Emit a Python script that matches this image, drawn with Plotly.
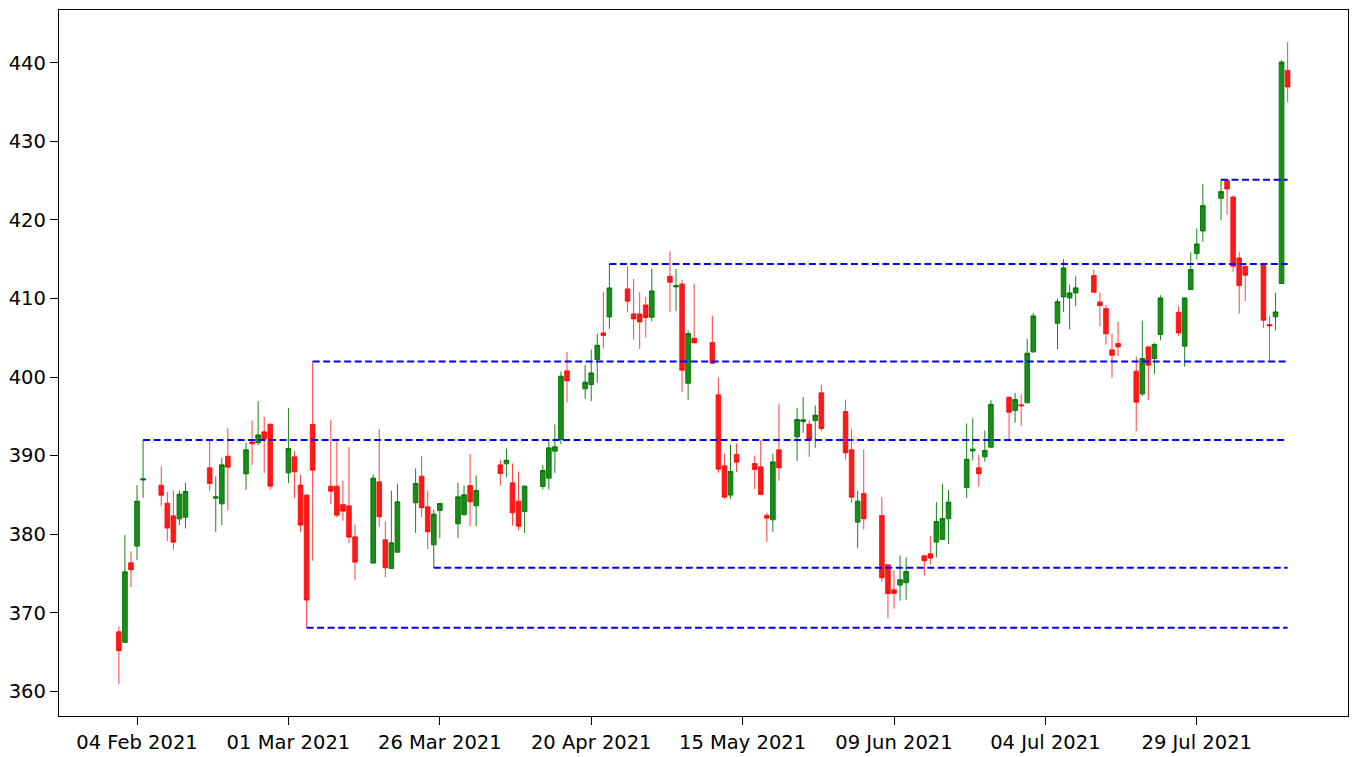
import plotly.graph_objects as go

dates = [
    "2021-02-01", "2021-02-02", "2021-02-03", "2021-02-04", "2021-02-05",
    "2021-02-08", "2021-02-09", "2021-02-10", "2021-02-11", "2021-02-12",
    "2021-02-16", "2021-02-17", "2021-02-18", "2021-02-19",
    "2021-02-22", "2021-02-23", "2021-02-24", "2021-02-25", "2021-02-26",
    "2021-03-01", "2021-03-02", "2021-03-03", "2021-03-04", "2021-03-05",
    "2021-03-08", "2021-03-09", "2021-03-10", "2021-03-11", "2021-03-12",
    "2021-03-15", "2021-03-16", "2021-03-17", "2021-03-18", "2021-03-19",
    "2021-03-22", "2021-03-23", "2021-03-24", "2021-03-25", "2021-03-26",
    "2021-03-29", "2021-03-30", "2021-03-31", "2021-04-01",
    "2021-04-05", "2021-04-06", "2021-04-07", "2021-04-08", "2021-04-09",
    "2021-04-12", "2021-04-13", "2021-04-14", "2021-04-15", "2021-04-16",
    "2021-04-19", "2021-04-20", "2021-04-21", "2021-04-22", "2021-04-23",
    "2021-04-26", "2021-04-27", "2021-04-28", "2021-04-29", "2021-04-30",
    "2021-05-03", "2021-05-04", "2021-05-05", "2021-05-06", "2021-05-07",
    "2021-05-10", "2021-05-11", "2021-05-12", "2021-05-13", "2021-05-14",
    "2021-05-17", "2021-05-18", "2021-05-19", "2021-05-20", "2021-05-21",
    "2021-05-24", "2021-05-25", "2021-05-26", "2021-05-27", "2021-05-28",
    "2021-06-01", "2021-06-02", "2021-06-03", "2021-06-04",
    "2021-06-07", "2021-06-08", "2021-06-09", "2021-06-10", "2021-06-11",
    "2021-06-14", "2021-06-15", "2021-06-16", "2021-06-17", "2021-06-18",
    "2021-06-21", "2021-06-22", "2021-06-23", "2021-06-24", "2021-06-25",
    "2021-06-28", "2021-06-29", "2021-06-30", "2021-07-01", "2021-07-02",
    "2021-07-06", "2021-07-07", "2021-07-08", "2021-07-09",
    "2021-07-12", "2021-07-13", "2021-07-14", "2021-07-15", "2021-07-16",
    "2021-07-19", "2021-07-20", "2021-07-21", "2021-07-22", "2021-07-23",
    "2021-07-26", "2021-07-27", "2021-07-28", "2021-07-29", "2021-07-30",
    "2021-08-02", "2021-08-03", "2021-08-04", "2021-08-05", "2021-08-06",
    "2021-08-09", "2021-08-10", "2021-08-11", "2021-08-12", "2021-08-13",
]

opens = [
    367.59, 366.24, 376.37, 378.49, 386.90,
    386.24, 383.95, 382.34, 381.96, 382.17,
    388.45, 384.59, 383.87, 389.93,
    387.68, 391.75, 391.63, 393.03, 394.00,
    387.81, 389.85, 386.25, 384.97, 393.96,
    386.12, 386.12, 383.79, 383.62, 379.67,
    376.33, 386.67, 379.29, 375.65, 377.72,
    384.00, 387.39, 383.49, 378.66, 383.02,
    381.33, 382.52, 386.20, 383.62,
    388.83, 388.96, 386.54, 384.21, 382.90,
    386.08, 387.14, 390.57, 392.05, 400.79,
    398.50, 399.05, 402.23, 405.62, 407.65,
    411.22, 408.04, 408.04, 409.18, 407.61,
    412.83, 411.47, 411.85, 399.22, 404.94,
    404.39, 397.74, 388.71, 384.98, 390.15,
    389.00, 388.58, 382.39, 381.84, 390.74,
    392.39, 394.34, 394.00, 394.47, 397.99,
    395.61, 390.74, 381.54, 385.19,
    382.39, 376.12, 372.94, 373.53, 373.83,
    377.26, 377.52, 379.00, 379.34, 381.97,
    385.95, 390.61, 388.45, 389.85, 391.08,
    397.44, 395.74, 396.47, 396.72, 403.21,
    406.85, 410.20, 410.07, 410.71,
    412.91, 409.56, 408.72, 403.46, 404.27,
    400.75, 397.86, 403.84, 402.36, 405.41,
    408.25, 403.93, 411.13, 415.71, 418.59,
    422.75, 425.04, 422.92, 415.16, 414.10,
    414.31, 406.68, 407.66, 411.90, 439.03,
]

highs = [
    368.23, 379.89, 377.81, 386.24, 392.00,
    388.62, 385.40, 385.57, 385.57, 386.54,
    391.92, 387.35, 389.72, 393.49,
    391.67, 394.47, 396.93, 394.93, 394.10,
    396.08, 390.57, 387.56, 385.10, 401.97,
    394.56, 391.80, 386.84, 391.08, 381.24,
    387.60, 393.41, 381.62, 385.53, 386.42,
    388.37, 389.93, 385.53, 383.15, 383.95,
    386.54, 386.20, 390.23, 387.48,
    389.43, 390.91, 389.00, 387.98, 386.20,
    388.83, 391.93, 393.96, 400.70, 403.20,
    401.55, 403.50, 405.49, 410.83, 414.40,
    414.10, 412.49, 410.79, 410.20, 413.80,
    416.01, 413.76, 412.36, 405.96, 411.85,
    407.82, 399.94, 390.23, 391.42, 391.55,
    390.02, 391.97, 382.73, 390.23, 396.63,
    396.08, 397.48, 394.56, 396.38, 399.01,
    397.14, 393.33, 385.48, 390.78,
    384.72, 376.20, 375.40, 377.30, 377.05,
    377.30, 379.76, 384.09, 386.42, 385.61,
    394.09, 394.77, 390.11, 393.20, 397.06,
    397.50, 397.99, 397.78, 404.86, 408.17,
    410.00, 415.03, 411.77, 412.83,
    413.68, 410.79, 409.18, 405.54, 407.02,
    402.57, 407.19, 403.90, 404.35, 410.41,
    409.01, 410.10, 415.88, 418.89, 424.57,
    425.10, 425.10, 423.13, 415.88, 414.15,
    414.40, 407.83, 410.71, 440.30, 442.63,
]

lows = [
    360.94, 366.20, 373.27, 376.75, 384.63,
    383.57, 379.12, 378.02, 381.16, 380.73,
    385.48, 380.31, 381.16, 383.06,
    385.65, 388.79, 391.33, 387.77, 385.69,
    386.50, 384.59, 380.27, 368.10, 376.62,
    383.83, 382.13, 381.71, 378.87, 374.16,
    376.30, 380.95, 374.54, 375.60, 377.70,
    380.18, 382.18, 378.11, 375.73, 379.51,
    379.51, 382.30, 381.03, 381.03,
    386.20, 387.22, 381.12, 380.48, 380.18,
    385.70, 385.70, 387.81, 391.46, 396.76,
    397.23, 396.93, 399.26, 403.63, 406.13,
    408.25, 404.77, 403.59, 405.03, 407.10,
    408.25, 408.38, 398.07, 397.10, 404.30,
    401.70, 387.82, 384.51, 384.51, 387.90,
    385.74, 385.06, 379.00, 380.31, 386.80,
    389.34, 392.90, 389.85, 390.99, 393.11,
    389.51, 384.00, 378.28, 380.61,
    373.96, 369.33, 370.52, 371.54, 371.62,
    374.72, 376.16, 377.05, 379.30, 378.75,
    384.59, 389.38, 386.04, 389.22, 391.00,
    392.06, 394.18, 393.75, 396.70, 403.08,
    403.55, 408.25, 406.05, 409.01,
    410.75, 406.47, 404.14, 399.90, 402.65,
    393.12, 397.57, 397.06, 400.41, 404.69,
    405.20, 401.30, 411.10, 414.95, 417.20,
    419.95, 420.67, 413.38, 408.08, 409.65,
    406.26, 402.00, 405.92, 411.85, 434.96,
]

closes = [
    365.18, 375.22, 375.48, 384.21, 387.05,
    384.97, 380.78, 378.99, 385.10, 385.44,
    386.46, 384.76, 388.83, 388.53,
    390.74, 391.50, 392.64, 392.14, 386.12,
    390.91, 387.94, 381.16, 371.62, 388.15,
    385.48, 382.43, 382.94, 379.63, 376.45,
    387.14, 382.22, 375.73, 378.91, 384.13,
    386.46, 383.36, 380.31, 382.56, 383.91,
    384.76, 385.02, 384.13, 385.57,
    387.73, 389.43, 382.73, 381.03, 386.12,
    388.11, 390.99, 391.12, 400.11, 399.52,
    399.35, 400.53, 404.05, 405.28, 411.34,
    409.65, 407.40, 407.02, 407.57, 410.96,
    412.06, 411.64, 400.87, 405.54, 404.35,
    401.76, 388.28, 384.72, 387.99, 389.17,
    388.24, 385.06, 382.05, 389.21, 388.45,
    394.60, 394.56, 392.10, 395.15, 393.45,
    390.36, 384.72, 384.21, 381.97,
    374.46, 372.43, 372.47, 374.21, 375.27,
    376.62, 376.96, 381.63, 382.01, 384.09,
    389.55, 390.83, 387.69, 390.66, 396.51,
    395.53, 397.14, 396.34, 403.04, 407.78,
    409.60, 413.89, 410.71, 411.35,
    410.79, 409.10, 405.50, 402.78, 403.84,
    396.80, 402.36, 401.51, 404.14, 410.07,
    405.62, 410.07, 413.68, 416.94, 421.82,
    423.60, 423.94, 414.10, 411.64, 412.96,
    407.23, 406.51, 408.29, 440.09, 436.91,
]

# support / resistance levels: value and the date each line starts
level_values = [392.00, 368.10, 401.97, 375.73, 414.40, 425.10]
level_starts = ["2021-02-05", "2021-03-04", "2021-03-05", "2021-03-25", "2021-04-23", "2021-08-02"]
level_end = "2021-08-13"

tick_dates = ["2021-02-04", "2021-03-01", "2021-03-26", "2021-04-20",
              "2021-05-15", "2021-06-09", "2021-07-04", "2021-07-29"]
tick_labels = ["04 Feb 2021", "01 Mar 2021", "26 Mar 2021", "20 Apr 2021",
               "15 May 2021", "09 Jun 2021", "04 Jul 2021", "29 Jul 2021"]
y_ticks = [360, 370, 380, 390, 400, 410, 420, 430, 440]

fig = go.Figure()

fig.add_trace(go.Candlestick(
    x=dates, open=opens, high=highs, low=lows, close=closes,
    increasing=dict(line=dict(color="rgba(0,118,0,0.9)", width=1),
                    fillcolor="rgba(0,128,0,0.9)"),
    decreasing=dict(line=dict(color="rgba(255,0,0,0.75)", width=1),
                    fillcolor="rgba(255,0,0,0.9)"),
    whiskerwidth=0,
    showlegend=False,
))

for val, start in zip(level_values, level_starts):
    fig.add_trace(go.Scatter(
        x=[start, level_end], y=[val, val], mode="lines",
        line=dict(color="blue", width=2, dash="7px,3.5px"),
        showlegend=False, hoverinfo="skip",
    ))

font = dict(family="DejaVu Sans", size=19.5, color="black")

# the page body adds an 8px offset, so the figure is sized to fit the window
fig.update_layout(
    width=1350, height=749,
    margin=dict(l=51, r=10, t=2, b=41),
    paper_bgcolor="white", plot_bgcolor="white",
    boxgap=0.23, boxgroupgap=0,
    showlegend=False,
    font=font,
)
fig.update_xaxes(
    type="date",
    range=["2021-01-22 02:45", "2021-08-22 23:15"],
    rangeslider=dict(visible=False),
    tickmode="array", tickvals=tick_dates, ticktext=tick_labels,
    ticks="outside", ticklen=8, tickwidth=1.3, tickcolor="black",
    showline=True, linecolor="black", linewidth=1.3, mirror=True,
    showgrid=False, zeroline=False, tickfont=font,
)
fig.update_yaxes(
    range=[356.87, 446.71],
    tickmode="array", tickvals=y_ticks,
    ticks="outside", ticklen=8, tickwidth=1.3, tickcolor="black",
    showline=True, linecolor="black", linewidth=1.3, mirror=True,
    showgrid=False, zeroline=False, tickfont=font,
)

fig.write_html("out.html")
